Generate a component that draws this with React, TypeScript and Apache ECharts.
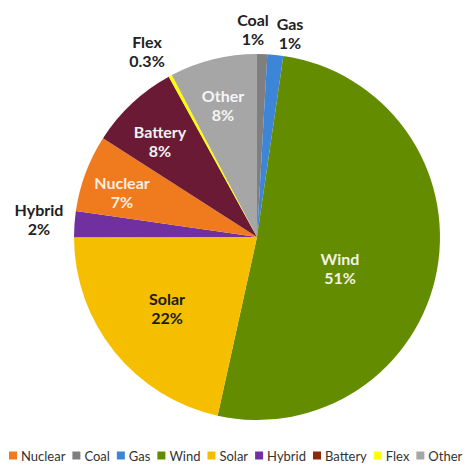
import React, { useEffect, useRef } from "react";
import * as echarts from "echarts";

// Slices clockwise from 12 o'clock
const categories = ["Coal", "Gas", "Wind", "Solar", "Hybrid", "Nuclear", "Battery", "Flex", "Other"];
const shares = [0.9, 1.4, 51.1, 21.5, 2.3, 6.8, 7.9, 0.3, 7.7];
const shareLabels = ["1%", "1%", "51%", "22%", "2%", "7%", "8%", "0.3%", "8%"];
const legendOrder = ["Nuclear", "Coal", "Gas", "Wind", "Solar", "Hybrid", "Battery", "Flex", "Other"];

const colors: Record<string, string> = {
  Coal: "#7f7f7f",
  Gas: "#3d85d6",
  Wind: "#638c00",
  Solar: "#f5bf00",
  Hybrid: "#7030a0",
  Nuclear: "#f07a1e",
  Battery: "#6a1a35",
  Flex: "#ffff00",
  Other: "#a6a6a6",
};
const legendColors: Record<string, string> = { ...colors, Battery: "#8b2a06" };

const labelColors: Record<string, string> = {
  Coal: "#222222",
  Gas: "#222222",
  Wind: "#f2f2e6",
  Solar: "#1a1a1a",
  Hybrid: "#222222",
  Nuclear: "#fbeee0",
  Battery: "#f2f2f2",
  Flex: "#222222",
  Other: "#f5f5f5",
};

// label centre positions (layout only)
const labelPos: Record<string, [number, number]> = {
  Coal: [253, 29],
  Gas: [290, 33],
  Wind: [340, 268],
  Solar: [167, 308],
  Hybrid: [39, 219],
  Nuclear: [122, 192],
  Battery: [160, 141],
  Flex: [147, 51],
  Other: [223, 105],
};
const outsideLabels = ["Coal", "Gas", "Hybrid", "Flex"];

export default function App() {
  const ref = useRef<HTMLDivElement>(null);
  useEffect(() => {
    document.body.style.margin = "0";
    if (!ref.current) return;
    const chart = echarts.init(ref.current, null, { renderer: "svg" });
    const data = categories.map((name, i) => ({
      name,
      value: shares[i],
      itemStyle: { color: colors[name] },
      label: {
        show: true,
        position: outsideLabels.includes(name) ? "outside" : "inside",
        color: labelColors[name],
        formatter: () => `${name}\n${shareLabels[i]}`,
      },
      labelLine: { show: false },
    }));
    chart.setOption({
      animation: false,
      backgroundColor: "#ffffff",
      legend: {
        data: legendOrder.map((name) => ({ name, itemStyle: { color: legendColors[name] } })),
        top: 449,
        left: 9,
        width: 470,
        padding: 0,
        icon: "rect",
        itemWidth: 8,
        itemHeight: 8,
        itemGap: 7,
        textStyle: { fontFamily: "Lato", fontSize: 13, color: "#333333", padding: [0, 0, 0, -1] },
        selectedMode: false,
      },
      series: [
        {
          type: "pie",
          center: [257, 237],
          radius: 183,
          startAngle: 90,
          clockwise: true,
          avoidLabelOverlap: false,
          silent: true,
          label: {
            fontFamily: "Lato",
            fontWeight: "bold",
            fontSize: 16,
            lineHeight: 19,
            align: "center",
          },
          labelLayout: (params: any) => {
            const name = categories[params.dataIndex];
            const p = labelPos[name];
            return { x: p[0], y: p[1], align: "center", verticalAlign: "middle" };
          },
          data,
        },
      ],
    });
    return () => chart.dispose();
  }, []);
  return <div ref={ref} style={{ width: 474, height: 474 }} />;
}
